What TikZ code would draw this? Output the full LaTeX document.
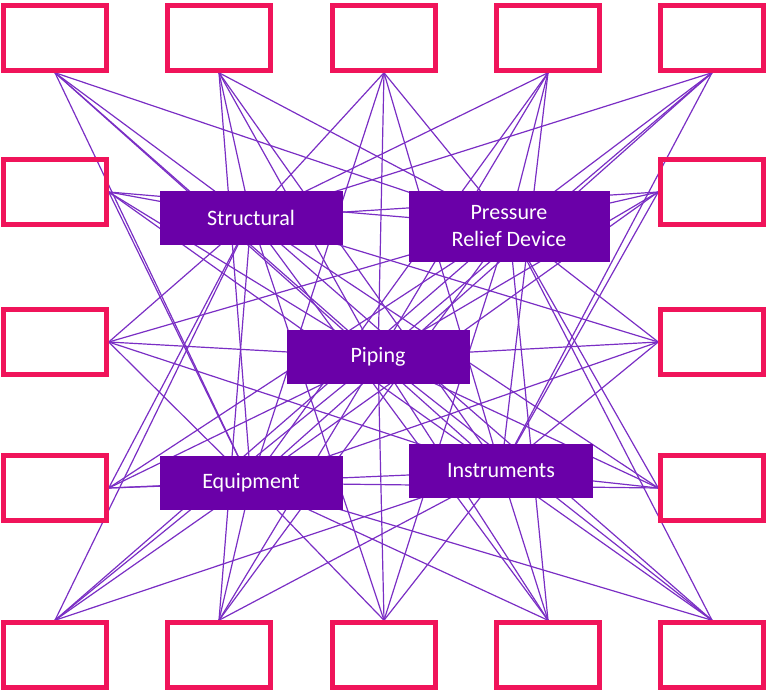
\documentclass[tikz,border=0pt]{standalone}
\usepackage{fontspec}
\setmainfont{Carlito}
\usetikzlibrary{positioning,backgrounds}
\definecolor{framepink}{RGB}{240,20,90}
\definecolor{boxpurple}{RGB}{106,0,168}
\definecolor{linepurple}{RGB}{122,46,196}
\tikzset{
  outer/.style={draw=framepink, line width=4.5pt, minimum width=103pt, minimum height=65pt, inner sep=0pt},
  inner/.style={fill=boxpurple, text=white, font=\fontsize{22}{27}\selectfont, align=center, inner sep=0pt},
  link/.style={draw=linepurple, line width=1.2pt}
}
\begin{document}
\begin{tikzpicture}[x=1pt, y=-1pt]
   \useasboundingbox (0,0) rectangle (768,696);
   % outer boxes
   \foreach \x [count=\i] in {55,219,384,548,712} {
     \node[outer] (t\i) at (\x,38) {};
     \node[outer] (b\i) at (\x,655) {};
   }
   \foreach \y [count=\i] in {192,342,488} {
     \node[outer] (l\i) at (55,\y) {};
     \node[outer] (r\i) at (712,\y) {};
   }
   % inner boxes
   \node[inner, minimum width=183pt, minimum height=54pt] (struct) at (251,218) {Structural};
   \node[inner, minimum width=201pt, minimum height=71pt] (relief) at (509,226) {Pressure\\Relief Device};
   \node[inner, minimum width=183pt, minimum height=54pt] (piping) at (378,357) {Piping};
   \node[inner, minimum width=183pt, minimum height=54pt] (equip)  at (251,483) {Equipment};
   \node[inner, minimum width=184pt, minimum height=54pt] (instr)  at (501,471) {Instruments};
   % connectors
   \begin{scope}[on background layer]
     \foreach \n in {struct,relief,piping,equip,instr} {
       \foreach \i in {1,...,5} {
         \draw[link] (t\i.south) -- (\n.center);
         \draw[link] (b\i.north) -- (\n.center);
       }
       \foreach \i in {1,2,3} {
         \draw[link] (l\i.east) -- (\n.center);
         \draw[link] (r\i.west) -- (\n.center);
       }
     }
   \end{scope}
\end{tikzpicture}
\end{document}
